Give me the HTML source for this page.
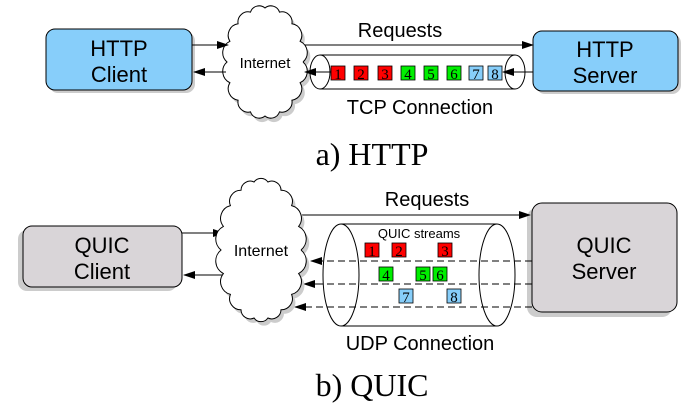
<!DOCTYPE html>
<html><head><meta charset="utf-8"><style>
html,body{margin:0;padding:0;background:#fff}
svg{display:block}
text{font-family:"Liberation Sans",sans-serif;fill:#000}
.s{font-family:"Liberation Serif",serif}
</style></head><body>
<svg width="695" height="412" viewBox="0 0 695 412" xmlns="http://www.w3.org/2000/svg">
<defs>
<marker id="a" markerWidth="12" markerHeight="8" refX="11" refY="4" orient="auto" markerUnits="userSpaceOnUse"><path d="M0,0 L12,4 L0,8 Z" fill="#000"/></marker>
</defs>
<g id="cl"></g>
<!-- HTTP boxes -->
<rect x="49" y="32" width="146" height="61" rx="9" fill="#ccc"/>
<rect x="46" y="29" width="146" height="61" rx="9" fill="#87cefa" stroke="#000"/>
<text x="119" y="56" font-size="22" text-anchor="middle">HTTP</text>
<text x="119" y="82" font-size="22" text-anchor="middle">Client</text>
<rect x="536" y="34" width="145" height="60" rx="9" fill="#ccc"/>
<rect x="533" y="31" width="145" height="60" rx="9" fill="#87cefa" stroke="#000"/>
<text x="605" y="57" font-size="22" text-anchor="middle">HTTP</text>
<text x="605" y="83" font-size="22" text-anchor="middle">Server</text>
<!-- QUIC boxes -->
<rect x="18" y="230" width="159" height="61" rx="9" fill="#ccc"/>
<rect x="23" y="226" width="159" height="61" rx="9" fill="#d9d5d8" stroke="#000"/>
<text x="102" y="253" font-size="22" text-anchor="middle">QUIC</text>
<text x="102" y="279" font-size="22" text-anchor="middle">Client</text>
<rect x="527" y="208" width="145" height="109" rx="10" fill="#ccc"/>
<rect x="532" y="203" width="145" height="109" rx="10" fill="#d9d5d8" stroke="#000"/>
<text x="604" y="253" font-size="22" text-anchor="middle">QUIC</text>
<text x="604" y="279" font-size="22" text-anchor="middle">Server</text>
<!-- TCP cylinder -->
<path d="M320,55 H515 M320,89 H515" stroke="#000" fill="none"/>
<ellipse cx="320" cy="72" rx="10" ry="17" fill="#fff" stroke="#000"/>
<ellipse cx="515" cy="72" rx="10" ry="17" fill="none" stroke="#000"/>
<g stroke="#000" stroke-width="0.8">
<rect x="331" y="66" width="14" height="14" fill="#f00"/><rect x="354" y="66" width="14" height="14" fill="#f00"/><rect x="378" y="66" width="14" height="14" fill="#f00"/>
<rect x="401" y="66" width="14" height="14" fill="#0e0"/><rect x="424" y="66" width="14" height="14" fill="#0e0"/><rect x="447" y="66" width="14" height="14" fill="#0e0"/>
<rect x="469" y="66" width="14" height="14" fill="#87cefa"/><rect x="488" y="66" width="14" height="14" fill="#87cefa"/>
</g>
<g font-size="15" text-anchor="middle">
<text class="s" x="338" y="79">1</text><text class="s" x="361" y="79">2</text><text class="s" x="385" y="79">3</text><text class="s" x="408" y="79">4</text><text class="s" x="431" y="79">5</text><text class="s" x="454" y="79">6</text><text class="s" x="476" y="79">7</text><text class="s" x="495" y="79">8</text>
</g>
<line x1="533" y1="72" x2="503" y2="72" stroke="#000" marker-end="url(#a)"/>
<line x1="331" y1="72" x2="305" y2="72" stroke="#000" marker-end="url(#a)"/>
<line x1="305" y1="45" x2="533" y2="45" stroke="#000" marker-end="url(#a)"/>
<line x1="192" y1="45" x2="228" y2="45" stroke="#000" marker-end="url(#a)"/>
<line x1="226" y1="72" x2="194" y2="72" stroke="#000" marker-end="url(#a)"/>
<text x="400" y="37" font-size="20" text-anchor="middle">Requests</text>
<text x="420" y="114" font-size="20" text-anchor="middle">TCP Connection</text>
<text class="s" x="372" y="165" font-size="32" text-anchor="middle">a) HTTP</text>
<!-- UDP cylinder -->
<path d="M341,224 H497 M341,326 H497" stroke="#000" fill="none"/>
<ellipse cx="341" cy="275" rx="18" ry="51" fill="#fff" stroke="#000"/>
<ellipse cx="497" cy="275" rx="18" ry="51" fill="none" stroke="#000"/>
<text x="419" y="238" font-size="13" text-anchor="middle">QUIC streams</text>
<g stroke="#000" stroke-dasharray="7,4" fill="none">
<line x1="532" y1="261" x2="320" y2="261"/>
<line x1="532" y1="284" x2="314" y2="284"/>
<line x1="532" y1="307" x2="306" y2="307"/>
</g>
<g stroke="#000">
<line x1="322" y1="261" x2="311" y2="261" marker-end="url(#a)"/>
<line x1="316" y1="284" x2="304" y2="284" marker-end="url(#a)"/>
<line x1="308" y1="307" x2="295" y2="307" marker-end="url(#a)"/>
</g>
<g stroke="#000" stroke-width="0.8">
<rect x="365" y="243" width="14" height="14" fill="#f00"/><rect x="392" y="243" width="14" height="14" fill="#f00"/><rect x="438" y="243" width="14" height="14" fill="#f00"/>
<rect x="379" y="267" width="14" height="14" fill="#0e0"/><rect x="416" y="267" width="14" height="14" fill="#0e0"/><rect x="433" y="267" width="14" height="14" fill="#0e0"/>
<rect x="399" y="289" width="14" height="14" fill="#87cefa"/><rect x="447" y="289" width="14" height="14" fill="#87cefa"/>
</g>
<g font-size="15" text-anchor="middle">
<text class="s" x="372" y="256">1</text><text class="s" x="399" y="256">2</text><text class="s" x="445" y="256">3</text>
<text class="s" x="386" y="280">4</text><text class="s" x="423" y="280">5</text><text class="s" x="440" y="280">6</text>
<text class="s" x="406" y="302">7</text><text class="s" x="454" y="302">8</text>
</g>
<line x1="302" y1="215" x2="530" y2="215" stroke="#000" marker-end="url(#a)"/>
<line x1="182" y1="233" x2="224" y2="233" stroke="#000" marker-end="url(#a)"/>
<line x1="222" y1="275" x2="184" y2="275" stroke="#000" marker-end="url(#a)"/>
<text x="427" y="206" font-size="20" text-anchor="middle">Requests</text>
<text x="420" y="350" font-size="20" text-anchor="middle">UDP Connection</text>
<text class="s" x="372" y="396" font-size="32" text-anchor="middle">b) QUIC</text>
<g id="cl2"></g>
</svg>
<script>
function cloud(cx,cy,rx,ry,n){
 var pts=[],d="";
 for(var i=0;i<=n;i++){var t=i/n*2*Math.PI;pts.push([cx+rx*Math.cos(t),cy+ry*Math.sin(t)]);}
 d="M"+pts[0][0].toFixed(1)+","+pts[0][1].toFixed(1);
 for(var i=1;i<=n;i++){var a=pts[i-1],b=pts[i];var r=Math.hypot(b[0]-a[0],b[1]-a[1])*0.6;
 d+=" A"+r.toFixed(1)+","+r.toFixed(1)+" 0 0 1 "+b[0].toFixed(1)+","+b[1].toFixed(1);}
 return d;}
var ns="http://www.w3.org/2000/svg";
function add(g,cx,cy,rx,ry,n,label,fs){
 var el=document.getElementById(g);
 var sh=document.createElementNS(ns,"path");sh.setAttribute("d",cloud(cx+3,cy+4,rx,ry,n));sh.setAttribute("fill","#ccc");el.appendChild(sh);
 var p=document.createElementNS(ns,"path");p.setAttribute("d",cloud(cx,cy,rx,ry,n));p.setAttribute("fill","#fff");p.setAttribute("stroke","#000");el.appendChild(p);
 var t=document.createElementNS(ns,"text");t.setAttribute("x",cx);t.setAttribute("y",cy+6);t.setAttribute("font-size",fs);t.setAttribute("text-anchor","middle");t.textContent=label;el.appendChild(t);}
add("cl",265,62,38,54,16,"Internet",15);
add("cl2",261,250,40,69,18,"Internet",16);
</script>
</body></html>
